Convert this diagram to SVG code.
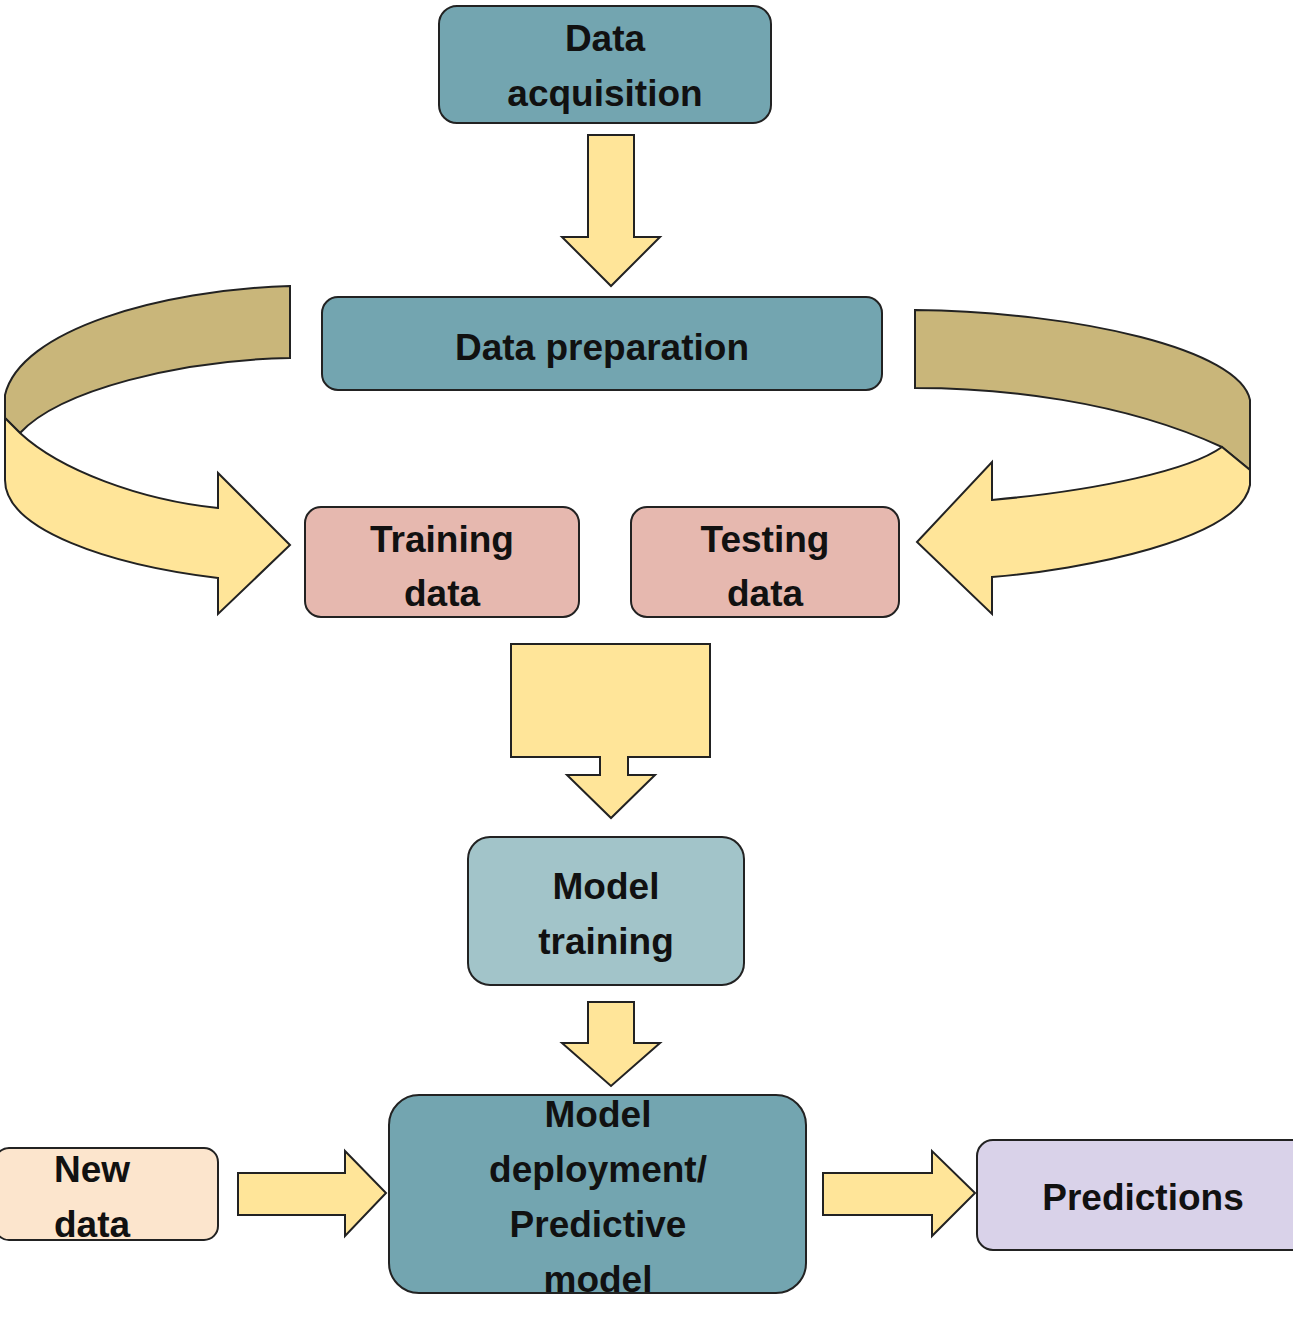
<svg xmlns="http://www.w3.org/2000/svg" width="1293" height="1330" viewBox="0 0 1293 1330">
<style>
.n{stroke:#222;stroke-width:2}
.a{fill:#ffe599;stroke:#222;stroke-width:2;stroke-linejoin:miter}
.b{fill:#c9b67a;stroke:#222;stroke-width:2}
text{font-family:"Liberation Sans",Arial,sans-serif;font-weight:bold;font-size:37px;fill:#111;text-anchor:middle}
</style>
<rect width="1293" height="1330" fill="#fff"/>
<g id="connectors">
<path class="a" d="M588,135 H634 V237 H660 L611,286 L562,237 H588 Z"/>
<path class="b" d="M290,286 C160,290 20,330 5,395 L5,418 L20,433 C60,390 180,360 290,358 Z"/>
<path class="a" d="M5,418 L20,433 C60,470 140,500 218,508 L218,473 L290,545 L218,614 L218,578 C110,565 5,530 5,480 Z"/>
<path class="b" d="M915,310 C1080,312 1240,350 1250,400 L1250,470 L1222,447 C1120,400 1000,388 915,388 Z"/>
<path class="a" d="M1222,447 L1250,470 L1250,485 C1240,540 1080,570 992,577 L992,614 L917,542 L992,462 L992,500 C1100,490 1190,470 1222,447 Z"/>
<path class="a" d="M511,644 H710 V757 H628 V775 H655 L611,818 L567,775 H600 V757 H511 Z"/>
<path class="a" d="M588,1002 H634 V1043 H660 L611,1086 L562,1043 H588 Z"/>
<path class="a" d="M238,1173 H345 V1151 L386,1193 L345,1236 V1215 H238 Z"/>
<path class="a" d="M823,1173 H932 V1151 L975,1193 L932,1236 V1215 H823 Z"/>
</g>
<g id="acq"><rect class="n" x="439" y="6" width="332" height="117" rx="18" fill="#73a5b0"/><text x="605" y="51">Data</text><text x="605" y="106">acquisition</text></g>
<g id="prep"><rect class="n" x="322" y="297" width="560" height="93" rx="16" fill="#73a5b0"/><text x="602" y="360">Data preparation</text></g>
<g id="train"><rect class="n" x="305" y="507" width="274" height="110" rx="16" fill="#e6b8af"/><text x="442" y="552">Training</text><text x="442" y="606">data</text></g>
<g id="test"><rect class="n" x="631" y="507" width="268" height="110" rx="16" fill="#e6b8af"/><text x="765" y="552">Testing</text><text x="765" y="606">data</text></g>
<g id="mtrain"><rect class="n" x="468" y="837" width="276" height="148" rx="22" fill="#a2c4c9"/><text x="606" y="899">Model</text><text x="606" y="954">training</text></g>
<g id="deploy"><rect class="n" x="389" y="1095" width="417" height="198" rx="30" fill="#73a5b0"/><text x="598" y="1127">Model</text><text x="598" y="1182">deployment/</text><text x="598" y="1237">Predictive</text><text x="598" y="1292">model</text></g>
<g id="new"><rect class="n" x="-5" y="1148" width="223" height="92" rx="14" fill="#fce5cd"/><text x="92" y="1182">New</text><text x="92" y="1237">data</text></g>
<g id="pred"><rect class="n" x="977" y="1140" width="330" height="110" rx="16" fill="#d9d2e9"/><text x="1143" y="1210">Predictions</text></g>
</svg>
